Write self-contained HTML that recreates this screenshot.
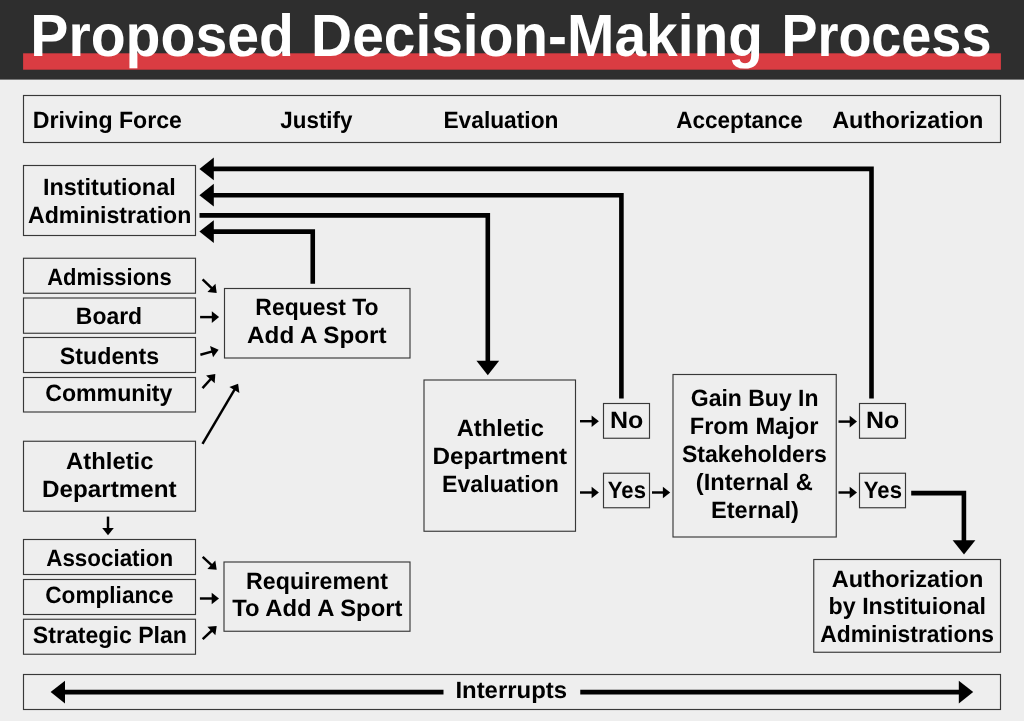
<!DOCTYPE html>
<html><head><meta charset="utf-8"><title>Proposed Decision-Making Process</title>
<style>html,body{margin:0;padding:0;background:#eeeeee;}svg{display:block;will-change:transform;}text{font-family:"Liberation Sans",sans-serif;font-weight:bold;text-rendering:geometricPrecision;}</style></head><body>
<svg width="1024" height="721" viewBox="0 0 1024 721">
<rect x="0" y="0" width="1024" height="721" fill="#eeeeee"/>
<rect x="0" y="0" width="1024" height="79.6" fill="#2e2e2e"/>
<rect x="23.1" y="53.3" width="977.8" height="16.4" fill="#da3c42"/>
<rect x="23.50" y="95.50" width="977.00" height="47.00" fill="none" stroke="#383838" stroke-width="1.15"/>
<rect x="23.50" y="165.50" width="172.00" height="70.00" fill="none" stroke="#383838" stroke-width="1.15"/>
<rect x="23.50" y="258.25" width="172.00" height="35.00" fill="none" stroke="#383838" stroke-width="1.15"/>
<rect x="23.50" y="298.00" width="172.00" height="35.25" fill="none" stroke="#383838" stroke-width="1.15"/>
<rect x="23.50" y="337.50" width="172.00" height="35.00" fill="none" stroke="#383838" stroke-width="1.15"/>
<rect x="23.50" y="377.50" width="172.00" height="34.50" fill="none" stroke="#383838" stroke-width="1.15"/>
<rect x="23.50" y="441.25" width="172.00" height="70.00" fill="none" stroke="#383838" stroke-width="1.15"/>
<rect x="23.50" y="539.50" width="172.00" height="35.00" fill="none" stroke="#383838" stroke-width="1.15"/>
<rect x="23.50" y="579.50" width="172.00" height="35.00" fill="none" stroke="#383838" stroke-width="1.15"/>
<rect x="23.50" y="619.25" width="172.00" height="35.00" fill="none" stroke="#383838" stroke-width="1.15"/>
<rect x="224.50" y="288.50" width="185.50" height="69.50" fill="none" stroke="#383838" stroke-width="1.15"/>
<rect x="224.00" y="562.00" width="186.00" height="69.25" fill="none" stroke="#383838" stroke-width="1.15"/>
<rect x="424.00" y="380.00" width="151.50" height="151.25" fill="none" stroke="#383838" stroke-width="1.15"/>
<rect x="603.50" y="403.50" width="46.00" height="34.75" fill="none" stroke="#383838" stroke-width="1.15"/>
<rect x="603.50" y="473.25" width="46.00" height="34.50" fill="none" stroke="#383838" stroke-width="1.15"/>
<rect x="673.00" y="374.50" width="163.25" height="162.50" fill="none" stroke="#383838" stroke-width="1.15"/>
<rect x="859.50" y="403.50" width="46.00" height="34.75" fill="none" stroke="#383838" stroke-width="1.15"/>
<rect x="859.50" y="473.25" width="46.00" height="34.50" fill="none" stroke="#383838" stroke-width="1.15"/>
<rect x="813.75" y="559.50" width="186.75" height="92.75" fill="none" stroke="#383838" stroke-width="1.15"/>
<rect x="23.50" y="674.50" width="977.00" height="35.00" fill="none" stroke="#383838" stroke-width="1.15"/>
<g fill="none" stroke="#000000" stroke-width="4.6" stroke-linejoin="miter">
<polyline points="871.5,398.6 871.5,168.9 212,168.9"/>
<polyline points="621.4,398.6 621.4,195.2 212,195.2"/>
<polyline points="199.5,215.4 487.8,215.4 487.8,362"/>
<polyline points="312.75,283.75 312.75,231.6 212,231.6"/>
<polyline points="911.2,493.1 963.9,493.1 963.9,542"/>
<line x1="64" y1="692.1" x2="443.5" y2="692.1"/>
<line x1="580.25" y1="692.1" x2="960" y2="692.1"/>
</g>
<g fill="#000000">
<polygon points="199.4,168.9 213.8,157.55 213.8,180.25"/>
<polygon points="199.4,195.2 213.8,183.85 213.8,206.54999999999998"/>
<polygon points="199.4,231.6 213.8,220.25 213.8,242.95"/>
<polygon points="487.8,375.25 476.45,360.85 499.15000000000003,360.85"/>
<polygon points="964,554.6 952.65,540.2 975.35,540.2"/>
<polygon points="50.6,692.1 65.0,680.75 65.0,703.45"/>
<polygon points="973.2,692.1 958.8000000000001,680.75 958.8000000000001,703.45"/>
</g>
<line x1="202.60" y1="279.40" x2="213.54" y2="289.87" stroke="#000000" stroke-width="2.45"/><polygon points="216.70,292.90 207.42,292.04 215.44,283.66" fill="#000000"/>
<line x1="200.10" y1="317.10" x2="214.72" y2="317.10" stroke="#000000" stroke-width="2.45"/><polygon points="219.10,317.10 211.80,322.90 211.80,311.30" fill="#000000"/>
<line x1="200.40" y1="354.70" x2="214.37" y2="350.94" stroke="#000000" stroke-width="2.45"/><polygon points="218.60,349.80 213.06,357.30 210.04,346.10" fill="#000000"/>
<line x1="202.50" y1="388.10" x2="212.36" y2="377.24" stroke="#000000" stroke-width="2.45"/><polygon points="215.30,374.00 214.69,383.30 206.10,375.51" fill="#000000"/>
<line x1="202.50" y1="443.90" x2="235.87" y2="387.47" stroke="#000000" stroke-width="2.45"/><polygon points="238.10,383.70 239.38,392.94 229.39,387.03" fill="#000000"/>
<line x1="108.00" y1="516.60" x2="108.00" y2="530.82" stroke="#000000" stroke-width="2.45"/><polygon points="108.00,535.20 102.20,527.90 113.80,527.90" fill="#000000"/>
<line x1="202.70" y1="556.80" x2="213.49" y2="566.82" stroke="#000000" stroke-width="2.45"/><polygon points="216.70,569.80 207.40,569.08 215.30,560.58" fill="#000000"/>
<line x1="199.90" y1="598.50" x2="214.62" y2="598.50" stroke="#000000" stroke-width="2.45"/><polygon points="219.00,598.50 211.70,604.30 211.70,592.70" fill="#000000"/>
<line x1="202.70" y1="639.20" x2="213.51" y2="629.00" stroke="#000000" stroke-width="2.45"/><polygon points="216.70,626.00 215.37,635.23 207.41,626.79" fill="#000000"/>
<line x1="580.00" y1="421.20" x2="594.52" y2="421.20" stroke="#000000" stroke-width="2.45"/><polygon points="598.90,421.20 591.60,427.00 591.60,415.40" fill="#000000"/>
<line x1="580.00" y1="492.50" x2="594.52" y2="492.50" stroke="#000000" stroke-width="2.45"/><polygon points="598.90,492.50 591.60,498.30 591.60,486.70" fill="#000000"/>
<line x1="652.00" y1="492.50" x2="665.82" y2="492.50" stroke="#000000" stroke-width="2.45"/><polygon points="670.20,492.50 662.90,498.30 662.90,486.70" fill="#000000"/>
<line x1="838.50" y1="421.60" x2="852.62" y2="421.60" stroke="#000000" stroke-width="2.45"/><polygon points="857.00,421.60 849.70,427.40 849.70,415.80" fill="#000000"/>
<line x1="838.50" y1="492.50" x2="852.62" y2="492.50" stroke="#000000" stroke-width="2.45"/><polygon points="857.00,492.50 849.70,498.30 849.70,486.70" fill="#000000"/>
<text transform="translate(30.245,56.00) scale(0.9611,1)" font-size="59.5" fill="#fff">Proposed</text>
<text transform="translate(311.059,56.00) scale(0.9559,1)" font-size="59.5" fill="#fff">Decision-Making</text>
<text transform="translate(781.384,56.00) scale(0.9070,1)" font-size="59.5" fill="#fff">Process</text>
<text transform="translate(32.829,127.50) scale(0.9845,1)" font-size="23.5" fill="#000000">Driving Force</text>
<text transform="translate(280.359,127.50) scale(0.9522,1)" font-size="23.5" fill="#000000">Justify</text>
<text transform="translate(443.395,127.50) scale(0.9685,1)" font-size="23.5" fill="#000000">Evaluation</text>
<text transform="translate(676.201,127.50) scale(0.9596,1)" font-size="23.5" fill="#000000">Acceptance</text>
<text transform="translate(832.153,127.50) scale(0.9989,1)" font-size="23.5" fill="#000000">Authorization</text>
<text transform="translate(42.983,195.00) scale(0.9964,1)" font-size="23.5" fill="#000000">Institutional</text>
<text transform="translate(28.007,222.50) scale(0.9851,1)" font-size="23.5" fill="#000000">Administration</text>
<text transform="translate(47.255,284.50) scale(0.9343,1)" font-size="23.5" fill="#000000">Admissions</text>
<text transform="translate(75.842,324.25) scale(0.9760,1)" font-size="23.5" fill="#000000">Board</text>
<text transform="translate(59.837,363.75) scale(0.9873,1)" font-size="23.5" fill="#000000">Students</text>
<text transform="translate(45.180,400.75) scale(0.9840,1)" font-size="23.5" fill="#000000">Community</text>
<text transform="translate(66.119,468.75) scale(1.0131,1)" font-size="23.5" fill="#000000">Athletic</text>
<text transform="translate(42.118,496.75) scale(1.0299,1)" font-size="23.5" fill="#000000">Department</text>
<text transform="translate(46.206,565.75) scale(0.9532,1)" font-size="23.5" fill="#000000">Association</text>
<text transform="translate(45.236,603.25) scale(0.9628,1)" font-size="23.5" fill="#000000">Compliance</text>
<text transform="translate(32.842,642.50) scale(0.9835,1)" font-size="23.5" fill="#000000">Strategic Plan</text>
<text transform="translate(255.350,315.00) scale(0.9753,1)" font-size="23.5" fill="#000000">Request To</text>
<text transform="translate(247.098,342.50) scale(1.0308,1)" font-size="23.5" fill="#000000">Add A Sport</text>
<text transform="translate(246.038,588.75) scale(0.9875,1)" font-size="23.5" fill="#000000">Requirement</text>
<text transform="translate(232.184,616.25) scale(1.0137,1)" font-size="23.5" fill="#000000">To Add A Sport</text>
<text transform="translate(456.674,435.75) scale(1.0122,1)" font-size="23.5" fill="#000000">Athletic</text>
<text transform="translate(432.597,463.75) scale(1.0302,1)" font-size="23.5" fill="#000000">Department</text>
<text transform="translate(442.088,491.75) scale(0.9835,1)" font-size="23.5" fill="#000000">Evaluation</text>
<text transform="translate(609.878,428.00) scale(1.0638,1)" font-size="23.5" fill="#000000">No</text>
<text transform="translate(607.835,497.50) scale(0.9409,1)" font-size="23.5" fill="#000000">Yes</text>
<text transform="translate(690.741,406.25) scale(0.9785,1)" font-size="23.5" fill="#000000">Gain Buy In</text>
<text transform="translate(689.706,434.25) scale(1.0065,1)" font-size="23.5" fill="#000000">From Major</text>
<text transform="translate(681.884,462.00) scale(0.9816,1)" font-size="23.5" fill="#000000">Stakeholders</text>
<text transform="translate(695.778,490.00) scale(1.0063,1)" font-size="23.5" fill="#000000">(Internal &amp;</text>
<text transform="translate(710.973,517.50) scale(1.0041,1)" font-size="23.5" fill="#000000">Eternal)</text>
<text transform="translate(865.924,428.00) scale(1.0612,1)" font-size="23.5" fill="#000000">No</text>
<text transform="translate(863.835,497.50) scale(0.9409,1)" font-size="23.5" fill="#000000">Yes</text>
<text transform="translate(831.698,586.50) scale(1.0014,1)" font-size="23.5" fill="#000000">Authorization</text>
<text transform="translate(828.560,614.25) scale(0.9886,1)" font-size="23.5" fill="#000000">by Instituional</text>
<text transform="translate(820.189,642.25) scale(0.9721,1)" font-size="23.5" fill="#000000">Administrations</text>
<text transform="translate(455.386,698.00) scale(1.0184,1)" font-size="23.5" fill="#000000">Interrupts</text>
</svg></body></html>
